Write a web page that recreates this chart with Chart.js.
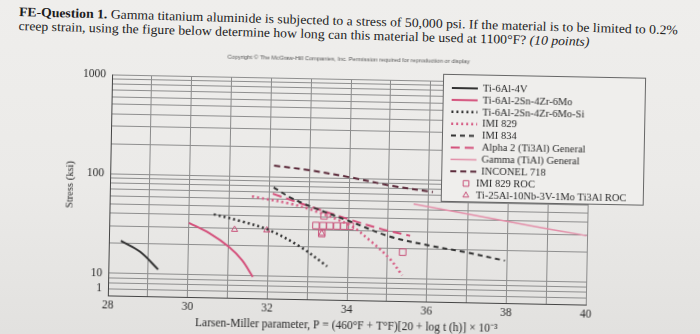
<!DOCTYPE html>
<html>
<head>
<meta charset="utf-8">
<script src="https://cdn.jsdelivr.net/npm/chart.js@4.4.1/dist/chart.umd.min.js"></script>
<style>
  html, body { margin: 0; padding: 0; }
  body {
    width: 700px; height: 334px; overflow: hidden; position: relative;
    background: linear-gradient(180deg, #efeeec 0%, #ebeae8 55%, #e2e1df 100%);
    font-family: "Liberation Serif", serif;
  }
  #title {
    position: absolute; left: 19px; top: 5px;
    transform-origin: 0 8px; transform: rotate(1.6deg);
    color: #1c1c1c; font-size: 13px; line-height: 14px; white-space: nowrap;
  }
  #title .line { display: inline-block; transform-origin: 0 50%; }
  #figure {
    position: absolute; left: 0; top: 0; width: 700px; height: 334px;
    transform-origin: 348px 185px; transform: rotate(1.1deg);
  }
  #copy {
    position: absolute; left: 225px; top: 56px; display: inline-block;
    font: 5.5px "Liberation Sans", sans-serif; color: #555; white-space: nowrap;
    transform-origin: 0 50%;
  }
</style>
</head>
<body>
<div id="title">
  <span class="line" data-w="659"><b>FE-Question 1.</b> Gamma titanium aluminide is subjected to a stress of 50,000 psi. If the material is to be limited to 0.2%</span><br>
  <span class="line" data-w="571">creep strain, using the figure below determine how long can this material be used at 1100°F? <i>(10 points)</i></span>
</div>
<div id="figure">
  <canvas id="lmChart" width="700" height="334"></canvas>
  <span id="copy" data-w="242">Copyright © The McGraw-Hill Companies, Inc. Permission required for reproduction or display</span>
</div>
<script>
// ---- data (P = Larsen-Miller parameter, S = stress in ksi) ----
const ti64P = [28.30, 28.79, 29.25];
const ti64S = [21.2, 16.6, 11.1];

const ti6246P = [30.00, 30.52, 31.02, 31.35, 31.63];
const ti6246S = [33.2, 26.3, 19.3, 14.3, 9.75];

const ti6246SiP = [30.62, 31.32, 32.03, 32.79, 33.49];
const ti6246SiS = [40.9, 35.2, 28.9, 20.2, 12.9];

const imi829P = [31.57, 32.53, 33.11, 34.05, 34.55, 35.05, 35.38];
const imi829S = [63.0, 54.1, 46.8, 33.6, 23.9, 15.9, 10.8];

const imi834P = [32.11, 32.53, 33.04, 34.05, 35.05, 36.06, 36.99, 37.95];
const imi834S = [78.3, 62.6, 51.3, 36.8, 26.4, 21.8, 18.9, 15.9];

const alpha2P = [32.09, 33.05, 34.05, 34.81, 35.56];
const alpha2S = [67.7, 50.9, 38.3, 31.5, 27.1];

const gammaP = [35.63, 37.07, 38.58, 39.99];
const gammaS = [56.9, 45.5, 36.2, 29.4];

const inconelP = [32.11, 33.04, 34.05, 35.05, 36.11];
const inconelS = [130, 118, 102, 86, 75.4];

const imi829RocP = [33.39, 33.19, 33.37, 33.54, 33.72, 33.89, 34.05, 33.34, 35.38];
const imi829RocS = [41.4, 33.0, 33.0, 33.0, 33.0, 33.0, 33.0, 27.5, 18.5];

const ti3AlRocP = [31.15, 31.96, 33.34];
const ti3AlRocS = [29.0, 29.0, 27.5];

// axis ticks
const xMin = 28, xMax = 40;
const yMin = 5.9, yMax = 1000;
const yGridValues = [7, 8, 9, 10, 20, 30, 40, 50, 60, 70, 80, 90, 100, 200, 300, 400, 500, 600, 700, 800, 900, 1000];
const yLabelValues = [7, 10, 100, 1000];
const yLabelTexts = ["1", "10", "100", "1000"];

const PINK = "#d4507b";
const MARK = "#c8527a";
const toPoints = (ps, ss) => ps.map((p, i) => ({ x: p, y: ss[i] }));

const lineSet = (label, ps, ss, color, width, dash) => ({
  label,
  data: toPoints(ps, ss),
  borderColor: color,
  borderWidth: width,
  borderDash: dash,
  pointRadius: 0,
  tension: 0.35,
  fill: false,
});

const markSet = (label, ps, ss, style, radius) => ({
  label,
  data: toPoints(ps, ss),
  showLine: false,
  borderColor: MARK,
  backgroundColor: "rgba(0,0,0,0)",
  borderWidth: 1,
  pointStyle: style,
  pointRadius: radius,
});

const datasets = [
  lineSet("Ti-6Al-4V", ti64P, ti64S, "#333333", 2, []),
  lineSet("Ti-6Al-2Sn-4Zr-6Mo", ti6246P, ti6246S, PINK, 2, []),
  lineSet("Ti-6Al-2Sn-4Zr-6Mo-Si", ti6246SiP, ti6246SiS, "#333333", 2.5, [2, 3]),
  lineSet("IMI 829", imi829P, imi829S, "#d65c84", 2.5, [2, 3]),
  lineSet("IMI 834", imi834P, imi834S, "#333333", 2, [5, 4]),
  lineSet("Alpha 2 (Ti3Al) General", alpha2P, alpha2S, PINK, 2, [9, 5]),
  lineSet("Gamma (TiAl) General", gammaP, gammaS, "#e38fa9", 1.5, []),
  lineSet("INCONEL 718", inconelP, inconelS, "#5b2a3a", 2, [6, 4]),
  markSet("IMI 829 ROC", imi829RocP, imi829RocS, "rect", 4.6),
  markSet("Ti-25Al-10Nb-3V-1Mo Ti3Al ROC", ti3AlRocP, ti3AlRocS, "triangle", 3.6),
];

// legend drawn as a boxed panel over the upper right of the plot
const legendBox = {
  id: "legendBox",
  afterDatasetsDraw(chart) {
    const ctx = chart.ctx;
    ctx.save();
    ctx.fillStyle = "#efeeec";
    ctx.fillRect(441, 72, 202, 127);
    ctx.strokeStyle = "#666";
    ctx.lineWidth = 1;
    ctx.strokeRect(441.5, 72.5, 202, 127);
    ctx.font = "10.5px 'Liberation Serif', serif";
    ctx.textBaseline = "middle";
    chart.data.datasets.forEach((ds, i) => {
      const y = 86 + i * 11.9;
      if (ds.showLine === false) {
        ctx.fillStyle = "rgba(0,0,0,0)";
        ctx.strokeStyle = ds.borderColor;
        ctx.lineWidth = 1;
        Chart.helpers.drawPoint(ctx, {
          pointStyle: ds.pointStyle, radius: ds.pointStyle === "rect" ? 4 : 3.4,
          rotation: 0, borderWidth: 1,
        }, 466, y);
        ctx.fillStyle = "#2a2a2a";
        ctx.fillText(ds.label, 476, y);
      } else {
        ctx.beginPath();
        ctx.setLineDash(ds.borderDash || []);
        ctx.strokeStyle = ds.borderColor;
        ctx.lineWidth = ds.borderWidth;
        ctx.moveTo(450, y);
        ctx.lineTo(476, y);
        ctx.stroke();
        ctx.setLineDash([]);
        ctx.fillStyle = "#2a2a2a";
        ctx.fillText(ds.label, 481, y);
      }
    });
    ctx.restore();
  },
};

new Chart(document.getElementById("lmChart").getContext("2d"), {
  type: "line",
  data: { datasets },
  plugins: [legendBox],
  options: {
    responsive: false,
    animation: false,
    devicePixelRatio: 1,
    layout: { padding: { top: 79, left: 60, right: 112, bottom: 0 } },
    plugins: { legend: { display: false }, tooltip: { enabled: false } },
    scales: {
      x: {
        type: "linear",
        min: xMin,
        max: xMax,
        afterFit: (s) => { s.height = 33.6; },
        border: { color: "#444", width: 1 },
        grid: { color: "#8a8a8a", lineWidth: 1, drawTicks: false },
        ticks: {
          stepSize: 1,
          autoSkip: false,
          maxRotation: 0,
          padding: 3,
          color: "#2a2a2a",
          font: { family: "'Liberation Serif', serif", size: 11.5 },
          callback: (v) => (v % 2 === 0 ? String(v) : ""),
        },
        title: {
          display: true,
          text: "Larsen-Miller parameter, P = (460°F + T°F)[20 + log t (h)] × 10⁻³",
          color: "#2a2a2a",
          font: { family: "'Liberation Serif', serif", size: 11.5 },
          padding: { top: 0, bottom: 1 },
        },
      },
      y: {
        type: "logarithmic",
        min: yMin,
        max: yMax,
        afterFit: (s) => { s.width = 50; },
        afterBuildTicks: (s) => { s.ticks = yGridValues.map((v) => ({ value: v })); },
        border: { color: "#444", width: 1 },
        grid: { color: "#8e8e8e", lineWidth: 1, drawTicks: false },
        ticks: {
          autoSkip: false,
          padding: 6,
          color: "#2a2a2a",
          font: { family: "'Liberation Serif', serif", size: 11.5 },
          callback: (v) => {
            const k = yLabelValues.indexOf(v);
            return k >= 0 ? yLabelTexts[k] : "";
          },
        },
        title: {
          display: true,
          text: "Stress (ksi)",
          color: "#2a2a2a",
          font: { family: "'Liberation Serif', serif", size: 10.5 },
          padding: { top: 4, bottom: 0 },
        },
      },
    },
  },
});

// squeeze text lines to the widths they have in the photo
document.querySelectorAll("[data-w]").forEach((el) => {
  const w = el.offsetWidth;
  const target = Number(el.dataset.w);
  el.style.transform = `scaleX(${target / w})`;
});
</script>
</body>
</html>
